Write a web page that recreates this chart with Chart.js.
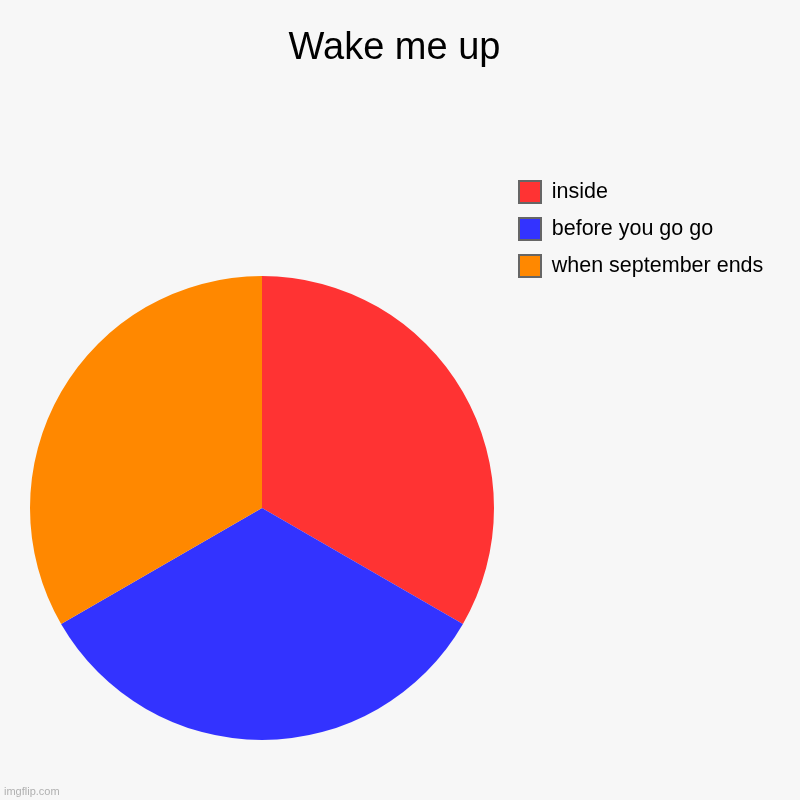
<!DOCTYPE html>
<html>
<head>
<meta charset="utf-8">
<script src="https://cdn.jsdelivr.net/npm/chart.js@4"></script>
<style>
  html, body { margin: 0; padding: 0; background: #f7f7f7; }
  #wrap { width: 800px; height: 800px; }
</style>
</head>
<body>
<div id="wrap"><canvas id="pie-chart" width="800" height="800"></canvas></div>
<script>
// Chart data
const chartTitle = "Wake me up";
const labels = ["inside", "before you go go", "when september ends"];
const values = [1, 1, 1];
const sliceColors = ["#ff3333", "#3333ff", "#ff8800"];

// background + watermark
const backdrop = {
    id: "backdrop",
    beforeDraw(chart) {
        const c = chart.ctx;
        c.save();
        c.fillStyle = "#f7f7f7";
        c.fillRect(0, 0, chart.width, chart.height);
        c.restore();
    },
    afterDraw(chart) {
        const c = chart.ctx;
        c.save();
        c.fillStyle = "#b0b0b0";
        c.font = "11px 'Liberation Sans', Arial, sans-serif";
        c.textBaseline = "alphabetic";
        c.fillText("imgflip.com", 4, 795);
        c.restore();
    }
};

const font = "'Liberation Sans', Arial, sans-serif";

const ctx = document.getElementById("pie-chart").getContext("2d");
const pieChart = new Chart(ctx, {
    type: "pie",
    data: {
        labels: labels,
        datasets: [
            {
                data: values,
                backgroundColor: sliceColors,
                borderWidth: 0,
                radius: 232,
            },
        ],
    },
    options: {
        responsive: false,
        animation: false,
        events: [],
        layout: { padding: { left: 20, right: 31, top: 0, bottom: 0 } },
        plugins: {
            title: {
                display: true,
                text: chartTitle,
                color: "#000",
                font: { family: font, size: 38, weight: "normal" },
                padding: { top: 26, bottom: 144.4 },
            },
            legend: {
                position: "right",
                align: "start",
                maxWidth: 265,
                // empty legend title only pushes the items down
                title: {
                    display: true,
                    text: "",
                    font: { family: font, size: 10 },
                    padding: { top: 154, bottom: 0 },
                },
                labels: {
                    color: "#000",
                    font: { family: font, size: 21.5 },
                    boxWidth: 22,
                    boxHeight: 22,
                    padding: 15,
                    generateLabels(chart) {
                        return labels.map((l, i) => ({
                            text: l,
                            fillStyle: sliceColors[i],
                            strokeStyle: "#666",
                            lineWidth: 2,
                            fontColor: "#000",
                            index: i,
                        }));
                    },
                },
            },
            tooltip: { enabled: false },
        },
    },
    plugins: [backdrop],
});
</script>
</body>
</html>
